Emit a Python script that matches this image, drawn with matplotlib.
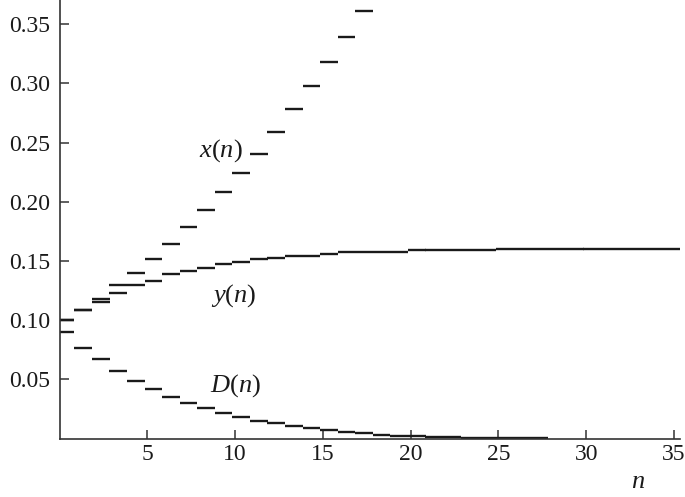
import numpy as np
import matplotlib.pyplot as plt

plt.rcParams['font.family'] = ['Liberation Serif', 'DejaVu Serif']
plt.rcParams['mathtext.fontset'] = 'custom'
plt.rcParams['mathtext.rm'] = 'Liberation Serif'
plt.rcParams['mathtext.it'] = 'Liberation Serif:italic'

# values, one per step n = 0, 1, 2, ...
x_vals = [0.100, 0.1086, 0.118, 0.1295, 0.140, 0.152, 0.1645, 0.1785, 0.1928,
          0.208, 0.2243, 0.2406, 0.2592, 0.278, 0.2976, 0.318, 0.3392, 0.3609]
y_vals = [0.100, 0.1086, 0.1157, 0.123, 0.1295, 0.1335, 0.1387, 0.1415, 0.1443,
          0.1472, 0.149, 0.1514, 0.1525, 0.1540, 0.1545, 0.1556, 0.1573, 0.1579,
          0.1579, 0.1579, 0.1593, 0.1593, 0.1593, 0.1593, 0.1593, 0.1599, 0.1599,
          0.1599, 0.1599, 0.1599, 0.1599, 0.1599, 0.1599, 0.1599, 0.1599, 0.1599]
D_vals = [0.090, 0.0768, 0.067, 0.0574, 0.0486, 0.0416, 0.0354, 0.0301, 0.0256,
          0.0214, 0.018, 0.0151, 0.0129, 0.0108, 0.0087, 0.0073, 0.0058, 0.0045,
          0.0033, 0.0022, 0.0022, 0.0013, 0.0013, 0.0006, 0.0006, 0.0006, 0.0006,
          0.0006]

x_ticks = [5, 10, 15, 20, 25, 30, 35]
y_ticks = [0.05, 0.10, 0.15, 0.20, 0.25, 0.30, 0.35]

fig = plt.figure(figsize=(6.85, 4.97), dpi=100)
ax = fig.add_axes([0.087, 0.1175, 0.906, 0.8825])

lw = 1.7
for vals in (x_vals, y_vals, D_vals):
    n = np.arange(len(vals))
    ax.hlines(vals, n - 0.16, n + 0.845, color='#1a1a1a', lw=lw)

ax.set_xlim(0, 35.35)
ax.set_ylim(0, 0.3704)
ax.set_xticks(x_ticks)
ax.set_yticks(y_ticks)
ax.set_yticklabels([f'{v:.2f}' for v in y_ticks])

for s in ('top', 'right'):
    ax.spines[s].set_visible(False)
for s in ('left', 'bottom'):
    ax.spines[s].set_linewidth(1.2)
    ax.spines[s].set_color('#333333')

ax.tick_params(direction='in', length=6.5, width=1.1, color='#333333',
               labelsize=17, labelcolor='#1a1a1a')
ax.tick_params(axis='y', pad=7)
ax.tick_params(axis='x', pad=4)

lab = dict(fontsize=19, ha='center', va='center', color='#1a1a1a')
ax.text(9.2, 0.243, r'$x(n)$', **lab)
ax.text(9.94, 0.1204, r'$y(n)$', **lab)
ax.text(9.99, 0.0448, r'$D(n)$', **lab)
ax.text(32.96, -0.037, r'$n$', clip_on=False, **lab)

fig.savefig('out.png', dpi=100)
